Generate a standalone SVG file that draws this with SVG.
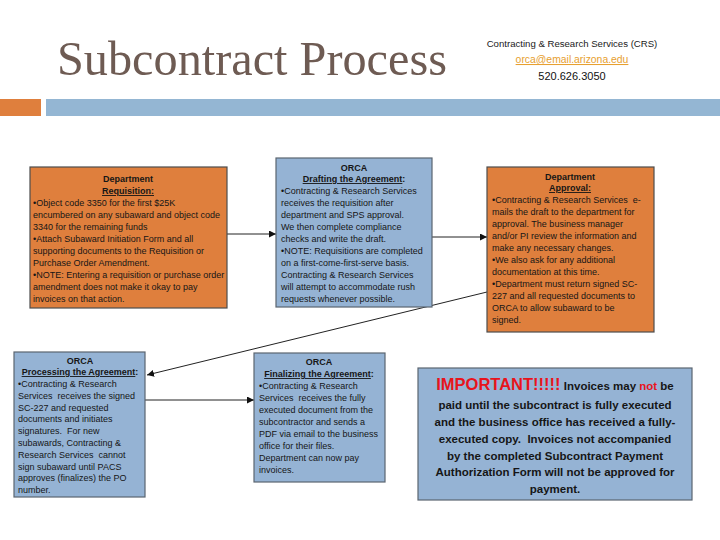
<svg xmlns="http://www.w3.org/2000/svg" width="720" height="540" viewBox="0 0 720 540">
<defs>
<marker id="ah" viewBox="0 0 10 10" refX="10" refY="5" markerWidth="7" markerHeight="7" markerUnits="userSpaceOnUse" orient="auto">
<path d="M0,0 L10,5 L0,10 z" fill="#111"/>
</marker>
<style>
.orange{fill:#df7f3d;stroke:#4d4d4d;stroke-width:1.2}
.blue{fill:#95b3d4;stroke:#5b6570;stroke-width:1.2}
.t{font-family:"Liberation Sans",Arial,sans-serif;font-size:9px;fill:#161616;white-space:pre}
.h{font-weight:bold;text-anchor:middle}
.u{text-decoration:underline}
.imp{font-family:"Liberation Sans",Arial,sans-serif;font-size:11.5px;font-weight:bold;fill:#161616;text-anchor:middle;white-space:pre}
.conn{stroke:#222;stroke-width:1;fill:none;marker-end:url(#ah)}
</style>
</defs>
<rect width="720" height="540" fill="#ffffff"/>
<g id="title">
<text x="57" y="75" font-family="'Liberation Serif','Times New Roman',serif" font-size="48" fill="#6e5b53" textLength="390" lengthAdjust="spacingAndGlyphs">Subcontract Process</text>
</g>
<g id="contact" font-family="'Liberation Sans',Arial,sans-serif" text-anchor="middle">
<text x="572" y="47" font-size="9.6" fill="#1a1a1a">Contracting &amp; Research Services (CRS)</text>
<text x="572" y="63" font-size="10.4" fill="#e7a030" text-decoration="underline">orca@email.arizona.edu</text>
<text x="572" y="80" font-size="11" fill="#111">520.626.3050</text>
</g>
<g id="bar">
<rect x="0" y="99" width="41" height="17" fill="#df7f3d"/>
<rect x="46" y="99" width="674" height="17" fill="#94b6d3"/>
</g>
<g id="connectors">
<line class="conn" x1="227" y1="234" x2="276" y2="234"/>
<line class="conn" x1="432" y1="237" x2="487" y2="237"/>
<line class="conn" x1="487" y1="292" x2="147" y2="375"/>
<line class="conn" x1="145" y1="400" x2="254" y2="400"/>
</g>
<g id="dept-requisition">
<rect class="orange" x="30" y="167" width="197" height="141"/>
<text class="t h" x="128" y="182">Department</text>
<text class="t h u" x="128" y="194">Requisition:</text>
<text class="t" x="33" y="206">•Object code 3350 for the first $25K</text>
<text class="t" x="33" y="218">encumbered on any subaward and object code</text>
<text class="t" x="33" y="230">3340 for the remaining funds</text>
<text class="t" x="33" y="242">•Attach Subaward Initiation Form and all</text>
<text class="t" x="33" y="254">supporting documents to the Requisition or</text>
<text class="t" x="33" y="266">Purchase Order Amendment.</text>
<text class="t" x="33" y="278">•NOTE: Entering a requisition or purchase order</text>
<text class="t" x="33" y="290">amendment does not make it okay to pay</text>
<text class="t" x="33" y="302">invoices on that action.</text>
</g>
<g id="orca-drafting">
<rect class="blue" x="276" y="158" width="156" height="149"/>
<text class="t h" x="354" y="171">ORCA</text>
<text class="t h" x="354" y="182"><tspan class="u">Drafting the Agreement</tspan>:</text>
<text class="t" x="281" y="194">•Contracting &amp; Research Services</text>
<text class="t" x="281" y="206">receives the requisition after</text>
<text class="t" x="281" y="218">department and SPS approval.</text>
<text class="t" x="281" y="230">We then complete compliance</text>
<text class="t" x="281" y="242">checks and write the draft.</text>
<text class="t" x="281" y="254">•NOTE: Requisitions are completed</text>
<text class="t" x="281" y="266">on a first-come-first-serve basis.</text>
<text class="t" x="281" y="278">Contracting &amp; Research Services</text>
<text class="t" x="281" y="290">will attempt to accommodate rush</text>
<text class="t" x="281" y="302">requests whenever possible.</text>
</g>
<g id="dept-approval">
<rect class="orange" x="487" y="167" width="167" height="165"/>
<text class="t h" x="570" y="180">Department</text>
<text class="t h u" x="570" y="191">Approval:</text>
<text class="t" x="492" y="203">•Contracting &amp; Research Services  e-</text>
<text class="t" x="492" y="215">mails the draft to the department for</text>
<text class="t" x="492" y="227">approval. The business manager</text>
<text class="t" x="492" y="239">and/or PI review the information and</text>
<text class="t" x="492" y="251">make any necessary changes.</text>
<text class="t" x="492" y="263">•We also ask for any additional</text>
<text class="t" x="492" y="275">documentation at this time.</text>
<text class="t" x="492" y="287">•Department must return signed SC-</text>
<text class="t" x="492" y="299">227 and all requested documents to</text>
<text class="t" x="492" y="311">ORCA to allow subaward to be</text>
<text class="t" x="492" y="323">signed.</text>
</g>
<g id="orca-processing">
<rect class="blue" x="14" y="352" width="131" height="145"/>
<text class="t h" x="80" y="364">ORCA</text>
<text class="t h" x="80" y="375"><tspan class="u">Processing the Agreement</tspan>:</text>
<text class="t" x="18" y="387">•Contracting &amp; Research</text>
<text class="t" x="18" y="398.8">Services  receives the signed</text>
<text class="t" x="18" y="410.6">SC-227 and requested</text>
<text class="t" x="18" y="422.4">documents and initiates</text>
<text class="t" x="18" y="434.2">signatures.  For new</text>
<text class="t" x="18" y="446">subawards, Contracting &amp;</text>
<text class="t" x="18" y="457.8">Research Services  cannot</text>
<text class="t" x="18" y="469.6">sign subaward until PACS</text>
<text class="t" x="18" y="481.4">approves (finalizes) the PO</text>
<text class="t" x="18" y="493.2">number.</text>
</g>
<g id="orca-finalizing">
<rect class="blue" x="254" y="353" width="131" height="129"/>
<text class="t h" x="319" y="365">ORCA</text>
<text class="t h" x="319" y="377"><tspan class="u">Finalizing the Agreement</tspan>:</text>
<text class="t" x="259" y="389">•Contracting &amp; Research</text>
<text class="t" x="259" y="401">Services  receives the fully</text>
<text class="t" x="259" y="413">executed document from the</text>
<text class="t" x="259" y="425">subcontractor and sends a</text>
<text class="t" x="259" y="437">PDF via email to the business</text>
<text class="t" x="259" y="449">office for their files.</text>
<text class="t" x="259" y="461">Department can now pay</text>
<text class="t" x="259" y="473">invoices.</text>
</g>
<g id="important">
<rect class="blue" x="418" y="368" width="274" height="132"/>
<text class="imp" x="555" y="390"><tspan fill="#e8141c" font-size="16.5">IMPORTANT!!!!!</tspan> Invoices may <tspan fill="#e8141c">not</tspan> be</text>
<text class="imp" x="555" y="409">paid until the subcontract is fully executed</text>
<text class="imp" x="555" y="426">and the business office has received a fully-</text>
<text class="imp" x="555" y="443">executed copy.  Invoices not accompanied</text>
<text class="imp" x="555" y="460">by the completed Subcontract Payment</text>
<text class="imp" x="555" y="476">Authorization Form will not be approved for</text>
<text class="imp" x="555" y="493">payment.</text>
</g>
</svg>
